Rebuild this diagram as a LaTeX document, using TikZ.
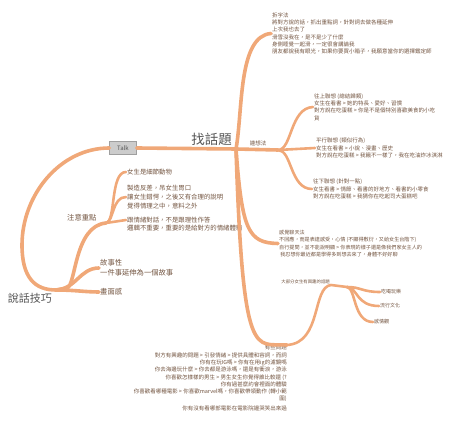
\documentclass[tikz,border=0pt]{standalone}
\usepackage{fontspec}
\setmainfont{Noto Sans CJK TC}
\usepackage{tikz}
\usetikzlibrary{positioning}

\definecolor{branch}{RGB}{240,168,120}
\definecolor{note}{RGB}{115,85,65}
\definecolor{headc}{RGB}{85,85,85}

\begin{document}
\begin{tikzpicture}[x=1pt, y=-1pt,
  wire/.style={draw=branch, line width=3.6pt, line cap=round},
  twig/.style={draw=branch, line width=2.6pt, line cap=round},
  leaf/.style={font=\fontsize{5.5}{7.3}\selectfont, text=note, align=left, anchor=west, inner sep=1pt},
  tip/.style={font=\fontsize{6.4}{8.6}\selectfont, text=note, align=left, anchor=west, inner sep=1pt},
  story/.style={font=\fontsize{7.3}{10}\selectfont, text=note, align=left, anchor=west, inner sep=1pt},
  title/.style={text=headc, inner sep=0pt},
]
\useasboundingbox (0,0) rectangle (474,427);

% Main topics
\node[title, font=\fontsize{11}{13}\selectfont] (skill) at (30,298) {說話技巧};
\node[draw=gray!75, fill=gray!40, text=headc, font=\fontsize{6}{7}\selectfont,
  minimum width=27pt, minimum height=13pt, inner sep=0pt] (talk) at (123,148) {Talk};
\node[title, font=\fontsize{13.5}{15}\selectfont, anchor=south east] (topic) at (232,146) {找話題};

% Junctions
\coordinate (root) at (56,290);
\coordinate (hub) at (236,149);
\coordinate (ja) at (106,223);
\coordinate (jl) at (278,150);
\coordinate (jd) at (347,287);

% Left side
\node[story, anchor=south west] (focus) at (66,222) {注意重點};
\node[tip] (detail) at (126,172) {女生是細節動物};
\node[tip] (contrast) at (126,197) {製造反差，吊女生胃口\\讓女生錯愕，之後又有合理的說明\\覺得情理之中，意料之外};
\node[tip] (emotion) at (126,224) {跟情緒對話，不是跟理性作答\\邏輯不重要，重要的是給對方的情緒體驗};
\node[story] (story) at (99,268) {故事性\\一件事延伸為一個故事};
\node[story] (scene) at (99,292) {畫面感};

% Right side
\node[leaf] (split) at (271,33.5) {拆字法\\將對方說的話，抓出重點詞，針對詞去做各種延伸\\上次我也去了\\滑雪沒我在，是不是少了什麼\\身側睡覺一起滑，一定很會講論我\\朋友都說我有眼光，如果你要買小箱子，我願意當你的選擇鑑定師};
\node[leaf, anchor=center] (assoc) at (258,143) {連想法};
\node[leaf] (up) at (313,107) {往上聯想 (總結歸類)\\女生在看書 > 她的特長、愛好、習慣\\對方說在吃蛋糕 > 你是不是個特別喜歡美食的小吃\\貨};
\node[leaf] (side) at (315,148) {平行聯想 (類似行為)\\女生在看書 > 小說、漫畫、歷史\\對方說在吃蛋糕 > 我餓不一樣了，我在吃油炸冰淇淋};
\node[leaf] (down) at (312,189) {往下聯想 (針對一點)\\女生看書 > 情節、看書的好地方、看書的小零食\\對方說在吃蛋糕 > 我猜你在吃起司大蛋糕吧};
\node[leaf, font=\fontsize{5.1}{7.5}\selectfont] (feel) at (278,243.5) {感覺聊天法\\不回應，而是表達感受，心情 (不顯得敷衍，又給女生台階下)\\自行提問，並不能說明顯 > 你表現的樣子還是像我們家女主人的\\\ 我忍想你最近都是學得多到想去來了，身體不好好聊};
\node[leaf, font=\fontsize{4.4}{6}\selectfont, anchor=south east] (girls) at (331,285) {大部分女生有興趣的話題};
\node[leaf, font=\fontsize{5}{6}\selectfont] (eat) at (380,292) {吃喝玩樂};
\node[leaf, font=\fontsize{5}{6}\selectfont] (pop) at (379,306) {流行文化};
\node[leaf, font=\fontsize{5}{6}\selectfont] (love) at (373,322) {感情觀};
\node[leaf, align=right, anchor=north east, inner sep=0pt] (ask) at (287,345) {有些問題\\對方有興趣的問題 > 引發情緒 > 提供具體和容詞，而詞\\你有在玩IG嗎 > 你有在用ig的濾鏡嗎\\你去海邊玩什麼 > 你去都是游泳嗎，還是有衝浪，游泳\\你喜歡怎樣樣的男生 > 男生女生你覺得誰比較還 (?\\你有過甚麼約會裡面的體驗\\你喜歡看哪種電影 > 你喜歡marvel嗎，你喜歡帶領動作 (轉小範\\圍)\\[1.8pt]你有沒有看哪部電影在電影院邊哭笑出來過};

% Branches of 說話技巧
\draw[wire] (talk.west) .. controls (60,148) and (22,195) .. (22,245)
  .. controls (22,278) and (35,290) .. (root);
\draw[wire] (root) -- (67,288) .. controls (76,286) and (74,226) .. (ja);
\draw[twig] (ja) .. controls (116,222) and (110,172) .. (detail.west);
\draw[twig] (ja) .. controls (114,221) and (112,197) .. (contrast.west);
\draw[twig] (ja) -- ([yshift=4pt]emotion.west);
\draw[wire] (root) .. controls (76,289) and (80,268) .. (story.west);
\draw[wire] (root) .. controls (75,290) and (85,292) .. (scene.west);

% Branches of 找話題
\draw[wire] (talk.east) -- (hub);
\draw[wire] (hub) .. controls (243,110) and (238,36) .. (split.west);
\draw[wire] (hub) -- (jl);
\draw[twig] (jl) .. controls (292,150) and (290,108) .. (up.west);
\draw[twig] (jl) -- (side.west);
\draw[twig] (jl) .. controls (292,150) and (290,189) .. (down.west);
\draw[wire] (hub) .. controls (242,230) and (248,243) .. (feel.west);
\draw[wire] (hub) .. controls (243,365) and (255,343) .. (ask.north east);
\draw[twig] (ask.north east) .. controls (322,343) and (312,287) .. (girls.south east) -- (jd);
\draw[twig] (jd) .. controls (361,287) and (362,292) .. (eat.west);
\draw[twig] (jd) .. controls (358,288) and (356,306) .. (pop.west);
\draw[twig] (jd) .. controls (356,288) and (353,322) .. (love.west);
\end{tikzpicture}
\end{document}
